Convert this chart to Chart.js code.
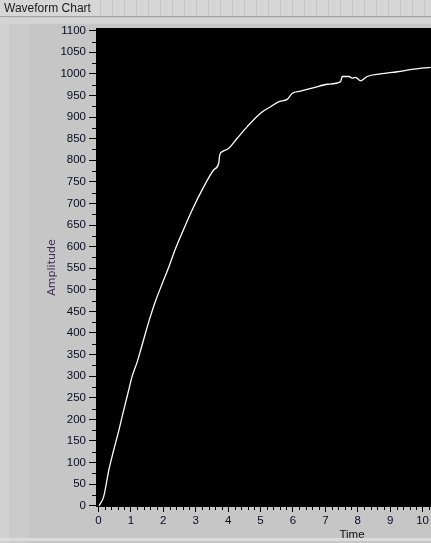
<!DOCTYPE html>
<html>
<head>
<meta charset="utf-8">
<script src="https://cdn.jsdelivr.net/npm/chart.js@4"></script>
<style>
  html, body { margin: 0; padding: 0; background: #c6c6c6; overflow: hidden; }
  #wrap { width: 431px; height: 543px; position: relative; }
</style>
</head>
<body>
<div id="wrap"><canvas id="waveform"></canvas></div>
<script>
// values
const time = [0.02, 0.16, 0.32, 0.47, 0.63, 0.78, 0.92, 1.04, 1.19, 1.30, 1.45, 1.60, 1.76, 1.97, 2.17,
  2.36, 2.53, 2.89, 3.25, 3.56, 3.71, 3.74, 3.82, 4.02, 4.28, 4.59, 5.00, 5.31, 5.57, 5.82, 5.98, 6.23,
  6.65, 7.06, 7.47, 7.52, 7.73, 7.83, 7.93, 8.09, 8.29, 8.70, 9.22, 9.73, 10.25];
const amplitude = [0, 21, 83, 129, 175, 222, 264, 300, 332, 360, 400, 438, 474, 515, 553,
  592, 623, 685, 739, 778, 793, 812, 820, 828, 851, 878, 909, 924, 936, 941, 955, 960,
  968, 976, 982, 994, 994, 990, 992, 984, 994, 1000, 1005, 1011, 1015];

const xTicks = [0, 1, 2, 3, 4, 5, 6, 7, 8, 9, 10];
const yTicks = [0, 50, 100, 150, 200, 250, 300, 350, 400, 450, 500, 550,
  600, 650, 700, 750, 800, 850, 900, 950, 1000, 1050, 1100];

const labelFont = { family: "Liberation Sans", size: 11.5 };

// panel background, plot area, minor ticks and captions
const labviewFrame = {
  id: "labviewFrame",
  beforeDraw(chart) {
    const { ctx, chartArea: a, width, height } = chart;
    ctx.save();
    ctx.fillStyle = "#c6c6c6";
    ctx.fillRect(0, 0, width, height);
    ctx.fillStyle = "#d2d2d2";
    ctx.fillRect(0, 0, 9, height);
    ctx.fillStyle = "#cbcbcb";
    ctx.fillRect(9, 0, 20, height);
    // caption strip
    ctx.fillStyle = "#d6d6d6";
    ctx.fillRect(0, 0, width, 16);
    ctx.strokeStyle = "#c6c6c6";
    ctx.lineWidth = 1;
    for (let x = 100; x < width; x += 12) {
      ctx.beginPath();
      ctx.moveTo(x + 0.5, 0);
      ctx.lineTo(x + 0.5, 16);
      ctx.stroke();
    }
    ctx.fillStyle = "#a4a4a4";
    ctx.fillRect(0, 16, width, 1);
    ctx.fillStyle = "#d4d4d4";
    ctx.fillRect(0, 18, width, 6);
    ctx.fillStyle = "#dcdcdc";
    ctx.fillRect(0, 538, width, 3);
    ctx.fillStyle = "#1a1a1a";
    ctx.font = "12px 'Liberation Sans'";
    ctx.textBaseline = "middle";
    ctx.fillText("Waveform Chart", 4, 8.5);
    // plot background
    ctx.fillStyle = "#000000";
    ctx.fillRect(a.left, a.top, a.right - a.left, a.bottom - a.top);
    ctx.restore();
  },
  afterDraw(chart) {
    const { ctx, chartArea: a } = chart;
    const xs = chart.scales.x, ys = chart.scales.y;
    ctx.save();
    ctx.strokeStyle = "#000000";
    ctx.lineWidth = 1;
    for (let i = 0; i < yTicks.length - 1; i++) {
      const y = Math.round(ys.getPixelForValue((yTicks[i] + yTicks[i + 1]) / 2)) + 0.5;
      ctx.beginPath();
      ctx.moveTo(a.left - 4, y);
      ctx.lineTo(a.left, y);
      ctx.stroke();
    }
    for (let i = 0; i < xTicks.length; i++) {
      for (let k = 1; k < 5; k++) {
        const v = xTicks[i] + k * 0.2;
        if (v > xs.max) break;
        const x = Math.round(xs.getPixelForValue(v)) + 0.5;
        ctx.beginPath();
        ctx.moveTo(x, a.bottom);
        ctx.lineTo(x, a.bottom + 3);
        ctx.stroke();
      }
    }
    ctx.fillStyle = "#101010";
    ctx.font = "11.5px 'Liberation Sans'";
    ctx.textAlign = "center";
    ctx.textBaseline = "middle";
    ctx.fillText("Time", 352, 535);
    ctx.translate(52, (a.top + a.bottom) / 2);
    ctx.rotate(-Math.PI / 2);
    ctx.fillStyle = "#3c2a55";
    ctx.font = "11px 'DejaVu Sans'";
    ctx.fillText("Amplitude", 0, 0);
    ctx.restore();
  }
};

new Chart(document.getElementById("waveform"), {
  type: "line",
  data: {
    datasets: [
      {
        data: time.map((t, i) => ({ x: t, y: amplitude[i] })),
        borderColor: "#ffffff",
        borderWidth: 1.3,
        pointRadius: 0,
        cubicInterpolationMode: "monotone",
        fill: false,
      },
    ],
  },
  options: {
    responsive: true,
    maintainAspectRatio: false,
    animation: false,
    devicePixelRatio: 1,
    layout: { padding: { top: 28, left: 0, right: 0, bottom: 0 } },
    plugins: {
      legend: { display: false },
      tooltip: { enabled: false },
    },
    scales: {
      x: {
        type: "linear",
        min: -0.077,
        max: 10.26,
        afterBuildTicks: (scale) => {
          scale.ticks = xTicks.map((v) => ({ value: v }));
        },
        afterFit: (scale) => {
          scale.height = 36;
        },
        border: { display: false },
        grid: { drawOnChartArea: false, tickLength: 5, tickColor: "#000000" },
        ticks: {
          color: "#0a0a20",
          font: labelFont,
          padding: 2,
          maxRotation: 0,
          autoSkip: false,
          callback: (v) => String(v),
        },
      },
      y: {
        min: -3,
        max: 1106.3,
        afterBuildTicks: (scale) => {
          scale.ticks = yTicks.map((v) => ({ value: v }));
        },
        afterFit: (scale) => {
          scale.width = 96;
        },
        border: { display: false },
        grid: { drawOnChartArea: false, tickLength: 7, tickColor: "#000000" },
        ticks: {
          color: "#0a0a20",
          font: labelFont,
          padding: 3,
          autoSkip: false,
          callback: (v) => String(v),
        },
      },
    },
  },
  plugins: [labviewFrame],
});
</script>
</body>
</html>
